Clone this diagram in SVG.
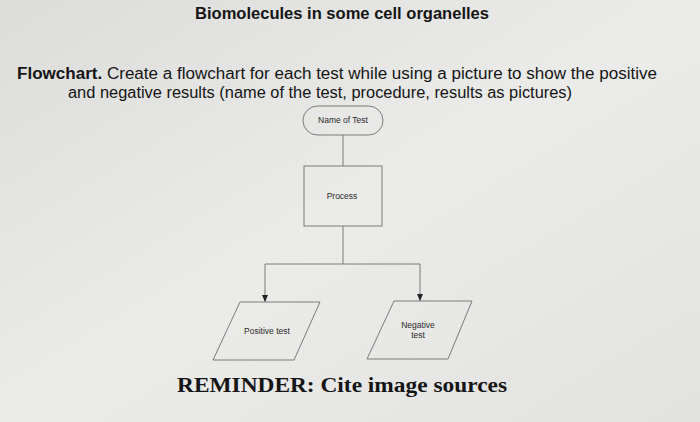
<svg xmlns="http://www.w3.org/2000/svg" width="700" height="422" viewBox="0 0 700 422">
<defs>
<linearGradient id="bg" x1="0" y1="0" x2="1" y2="1">
<stop offset="0" stop-color="#dcdcda"/>
<stop offset="0.5" stop-color="#ebebe9"/>
<stop offset="1" stop-color="#e2e2e0"/>
</linearGradient>
<marker id="arr" markerWidth="8" markerHeight="8" refX="7" refY="4" orient="auto" markerUnits="userSpaceOnUse">
<path d="M0,1 L7,4 L0,7 Z" fill="#222"/>
</marker>
<style>
.hd{font-family:"Liberation Sans",Arial,sans-serif;fill:#151515}
.sh{fill:none;stroke:#7a7a7a;stroke-width:1}
.lb{font-family:"Liberation Sans",Arial,sans-serif;font-size:8.5px;fill:#2a2a2a;text-anchor:middle}
.cn{fill:none;stroke:#7a7a7a;stroke-width:1}
</style>
</defs>
<rect width="700" height="422" fill="url(#bg)"/>
<text class="hd" x="342" y="19" font-size="17" font-weight="bold" text-anchor="middle" textLength="294" lengthAdjust="spacingAndGlyphs">Biomolecules in some cell organelles</text>
<text class="hd" x="17" y="79" font-size="16" textLength="640" lengthAdjust="spacingAndGlyphs"><tspan font-weight="bold">Flowchart.</tspan> Create a flowchart for each test while using a picture to show the positive</text>
<text class="hd" x="68" y="98" font-size="16" textLength="504" lengthAdjust="spacingAndGlyphs">and negative results (name of the test, procedure, results as pictures)</text>
<g id="connectors">
<line class="cn" x1="343" y1="135" x2="343" y2="166"/>
<line class="cn" x1="343" y1="226" x2="343" y2="264"/>
<line class="cn" x1="265" y1="264" x2="420" y2="264"/>
<line class="cn" x1="265" y1="264" x2="265" y2="302" marker-end="url(#arr)"/>
<line class="cn" x1="420" y1="264" x2="420" y2="301" marker-end="url(#arr)"/>
</g>
<g id="name-of-test">
<rect class="sh" x="303" y="106" width="80" height="29" rx="14.5"/>
<text class="lb" x="343" y="123">Name of Test</text>
</g>
<g id="process">
<rect class="sh" x="304" y="166" width="78" height="60"/>
<text class="lb" x="342" y="199">Process</text>
</g>
<g id="positive-test">
<polygon class="sh" points="240,302 320,302 294,360 213,360"/>
<text class="lb" x="267" y="334">Positive test</text>
</g>
<g id="negative-test">
<polygon class="sh" points="394,301 472,301 448,359 367,359"/>
<text class="lb" x="418" y="328">Negative</text>
<text class="lb" x="418" y="338">test</text>
</g>
<text x="342" y="392" font-family="'Liberation Serif','Times New Roman',serif" font-size="20" font-weight="bold" fill="#151515" text-anchor="middle" textLength="330" lengthAdjust="spacingAndGlyphs">REMINDER: Cite image sources</text>
</svg>
